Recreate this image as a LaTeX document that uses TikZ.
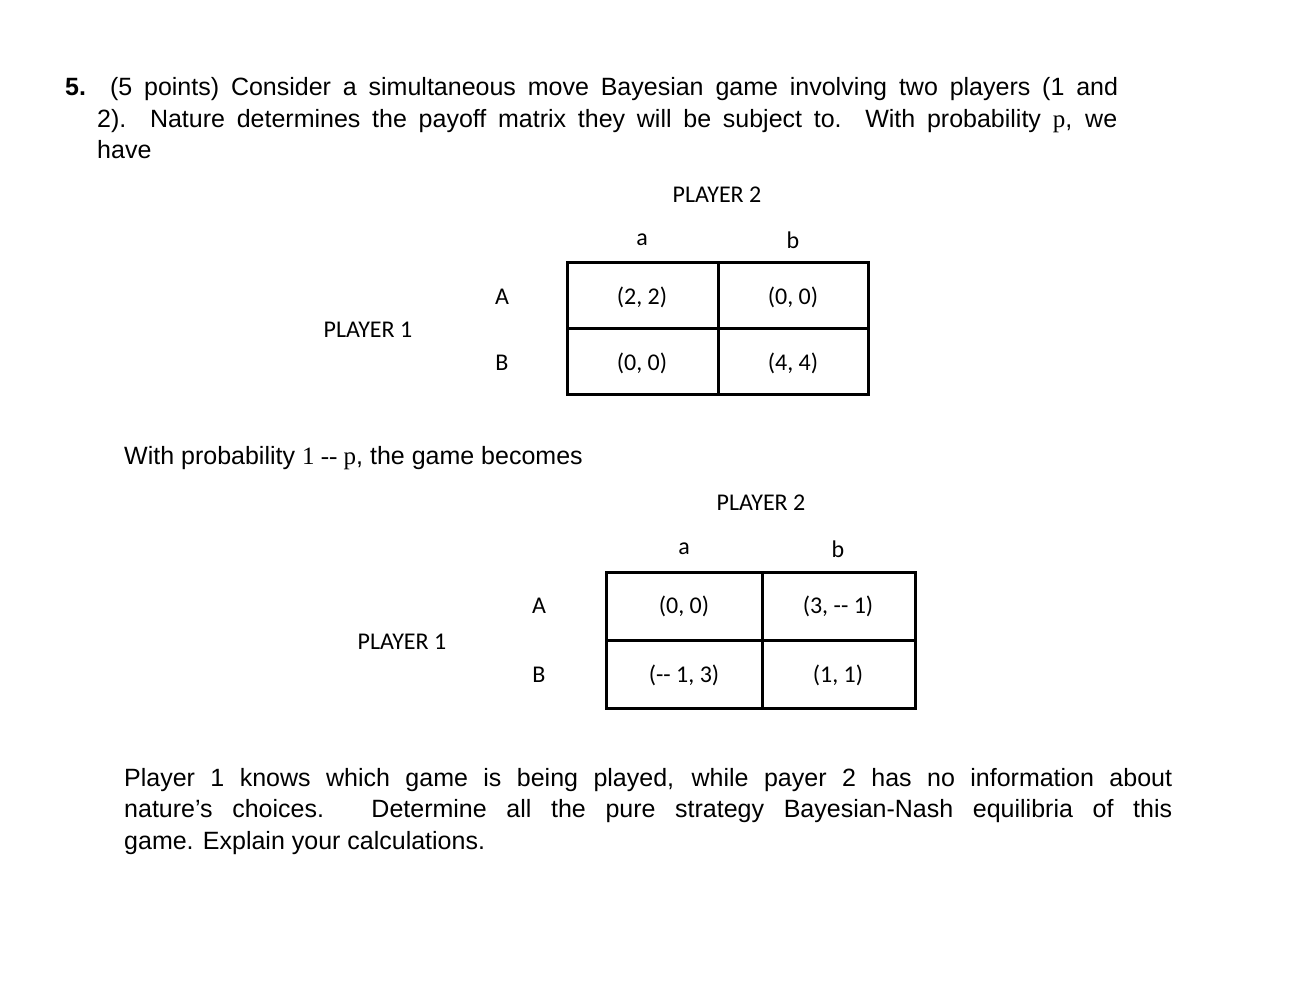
\documentclass[tikz,border=0pt]{standalone}
\usepackage{fontspec}
\setmainfont{Liberation Sans}
\newfontfamily\calfont{Carlito}
\newfontfamily\tmsfont{Liberation Serif}
\begin{document}
\begin{tikzpicture}[x=1pt,y=-1pt,
  txt/.style={anchor=base west,inner sep=0pt,font=\fontsize{25}{30}\selectfont},
  lab/.style={inner sep=0pt,font=\calfont\fontsize{24}{28}\selectfont},
  grid/.style={line width=3pt}]
\useasboundingbox[fill=white] (0,0) rectangle (1306,988);
\node[txt] (l1) at (65,95) {\makebox[1053pt][s]{\textbf{5.} (5 points) Consider a simultaneous move Bayesian game involving two players (1 and}};
\node[txt] (l2) at (97,127) {\makebox[1020pt][s]{2). Nature determines the payoff matrix they will be subject to. With probability {\tmsfont p}, we}};
\node[txt] (l3) at (97,158) {have};
\node[txt] (w) at (124,464) {With probability {\tmsfont 1 -- p}, the game becomes};
\node[txt] (p1) at (124,786) {\makebox[1048pt][s]{Player 1 knows which game is being played, while payer 2 has no information about}};
\node[txt] (p2) at (124,817) {\makebox[1048pt][s]{nature’s choices. Determine all the pure strategy Bayesian-Nash equilibria of this}};
\node[txt] (p3) at (124,849) {game. Explain your calculations.};
% table 1
\draw[grid] (567,262) rectangle (868,394) (718,262) -- (718,394) (567,328) -- (868,328);
\node[lab] (t1p2) at (717,195) {PLAYER 2};
\node[lab] (t1a) at (642,240) {a};
\node[lab] (t1b) at (793,240) {b};
\node[lab] (t1A) at (502,297) {A};
\node[lab] (t1B) at (502,363) {B};
\node[lab] (t1p1) at (368,330) {PLAYER 1};
\node[lab] (c11) at (642,297) {(2, 2)};
\node[lab] (c12) at (793,297) {(0, 0)};
\node[lab] (c21) at (642,363) {(0, 0)};
\node[lab] (c22) at (793,363) {(4, 4)};
% table 2
\draw[grid] (606,572) rectangle (915,708) (762,572) -- (762,708) (606,640) -- (915,640);
\node[lab] (t2p2) at (761,503) {PLAYER 2};
\node[lab] (t2a) at (684,549) {a};
\node[lab] (t2b) at (838,549) {b};
\node[lab] (t2A) at (539,606) {A};
\node[lab] (t2B) at (539,675) {B};
\node[lab] (t2p1) at (402,642) {PLAYER 1};
\node[lab] (d11) at (684,606) {(0, 0)};
\node[lab] (d12) at (838,606) {(3, -- 1)};
\node[lab] (d21) at (684,675) {(-- 1, 3)};
\node[lab] (d22) at (838,675) {(1, 1)};
\end{tikzpicture}
\end{document}
